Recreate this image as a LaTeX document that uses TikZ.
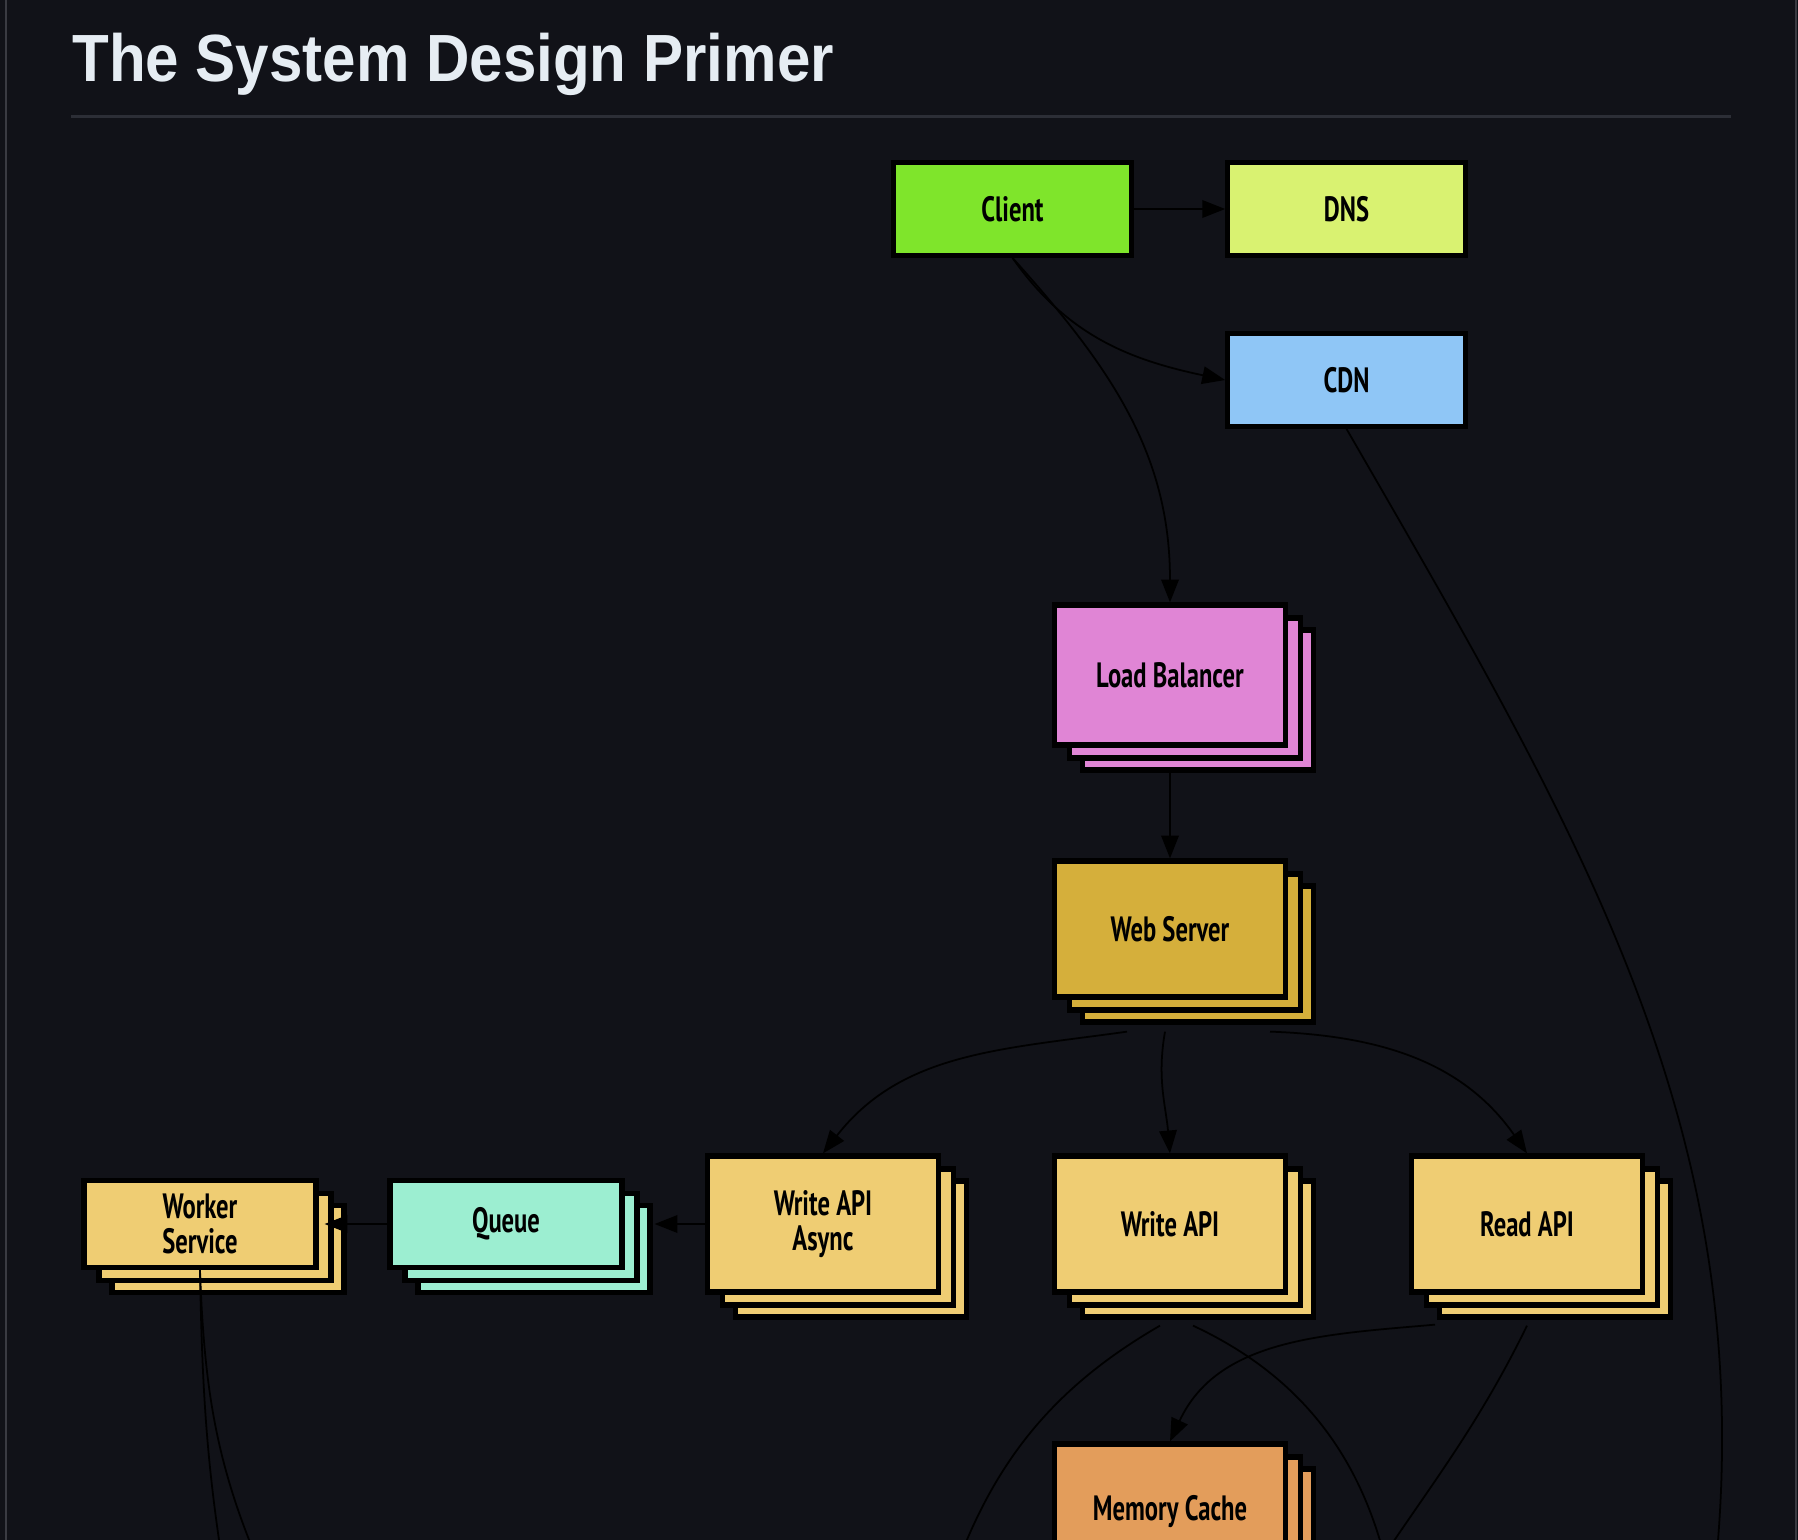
\documentclass[tikz,border=0pt]{standalone}
\usepackage{fontspec}
\setmainfont{Liberation Sans}
\newfontfamily\boxfont[FakeStretch=0.7]{PT Sans}
\newfontfamily\titlefont[FakeStretch=0.9]{Liberation Sans}
\usepackage{tikz}
\usetikzlibrary{arrows,arrows.meta,calc,positioning,shadows,shapes}
\definecolor{bgcol}{HTML}{111218}
\definecolor{titlecol}{HTML}{E6EDF3}
\definecolor{rulecol}{HTML}{2C2E36}
\definecolor{edgecol}{HTML}{3A3B42}
\definecolor{clientcol}{HTML}{7FE52B}
\definecolor{dnscol}{HTML}{D9F271}
\definecolor{cdncol}{HTML}{8FC6F6}
\definecolor{lbcol}{HTML}{E085D5}
\definecolor{wscol}{HTML}{D5AF3B}
\definecolor{apicol}{HTML}{EFCD73}
\definecolor{queuecol}{HTML}{9CEED1}
\definecolor{cachecol}{HTML}{E39D5B}
\tikzset{%
	box/.style      = {draw=black, line width=3pt, fill=#1, rectangle, minimum width=4.75cm, minimum height=1.85cm, font=\boxfont\bfseries\fontsize{20}{19.5}\selectfont, align=center}, % single box
	stack/.style    = {box=#1, minimum width=4.62cm, minimum height=2.72cm,
		copy shadow={shadow xshift=0.56cm, shadow yshift=-0.5cm, fill=#1, draw=black, line width=3pt},
		copy shadow={shadow xshift=0.3cm, shadow yshift=-0.26cm, fill=#1, draw=black, line width=3pt}}, % box with two copies
	flat/.style     = {stack=#1, minimum width=4.64cm, minimum height=1.74cm}, % low stack
	wire/.style     = {black, line width=1pt}, % connector
}

\begin{document}
\begin{tikzpicture}[node distance=6cm,auto,>={Triangle[length=13pt,width=10pt]}]
	\useasboundingbox (0,0) rectangle (35.96,-30.8);
	\fill[bgcol] (0,0) rectangle (35.96,-30.8);
	\clip (0,0) rectangle (35.96,-30.8);
	\draw[edgecol, line width=1.2pt] (0.12,0) -- (0.12,-30.8);
	\draw[edgecol, line width=1.2pt] (35.92,0) -- (35.92,-30.8);
	\node [anchor=base west, inner sep=0pt, text=titlecol, font=\titlefont\bfseries\fontsize{38}{44}\selectfont] (title) at (1.44,-1.63) {The System Design Primer};
	\draw[rulecol, line width=1.2pt] (1.42,-2.33) -- (34.62,-2.33);

	\node [box=clientcol] (client) at (20.25,-4.18) {Client};
	\node [box=dnscol] (dns) [right of=client,node distance=6.68cm] {DNS};
	\node [box=cdncol] (cdn) [below of=dns,node distance=3.42cm] {CDN};
	\node [stack=lbcol,minimum height=2.8cm] (lb) at (23.4,-13.5) {Load Balancer};
	\node [stack=wscol] (ws) [below of=lb,node distance=5.08cm] {Web Server};
	\node [stack=apicol] (wapi) [below of=ws,node distance=5.9cm] {Write API};
	\node [stack=apicol] (wapia) [left of=wapi,node distance=6.94cm] {Write API\\Async};
	\node [stack=apicol] (rapi) [right of=wapi,node distance=7.14cm] {Read API};
	\node [flat=queuecol] (queue) [left of=wapia,node distance=6.34cm] {Queue};
	\node [flat=apicol] (worker) [left of=queue,node distance=6.12cm] {Worker\\Service};
	\node [stack=cachecol] (mc) [below of=wapi,node distance=5.76cm] {Memory Cache};

	% ends below the frame
	\coordinate (wkout1) at (4.64,-32.4);
	\coordinate (wkout2) at (5.5,-32.0);
	\coordinate (wrout1) at (18.6,-33);
	\coordinate (wrout2) at (28,-33);
	\coordinate (rdout) at (26.3,-33.4);
	\coordinate (cdnout) at (34,-33.6);

	\draw[wire,->] (client) -- (dns);
	\draw[wire,->] (client.south) to[out=-55,in=168] (cdn.west);
	\draw[wire,->] (client.south) to[out=-48,in=90] (lb.north);
	\draw[wire,->] ([yshift=-0.5cm]lb.south) -- (ws.north);
	\draw[wire,->] ([xshift=-0.86cm,yshift=-0.64cm]ws.south) to[out=188,in=52] (wapia.north);
	\draw[wire,->] ([xshift=-0.1cm,yshift=-0.64cm]ws.south) to[out=-100,in=95] (wapi.north);
	\draw[wire,->] ([xshift=2cm,yshift=-0.64cm]ws.south) to[out=-2,in=125] (rapi.north);
	\draw[wire,->] (wapia.west) -- ([xshift=0.6cm]queue.east);
	\draw[wire,->] (queue.west) -- ([xshift=0.12cm]worker.east);
	\draw[wire,->] ([xshift=-1.84cm,yshift=-0.6cm]rapi.south) to[out=185,in=65] (mc.north);
	\draw[wire] (worker.south) to[out=-89,in=100] (wkout1);
	\draw[wire] (worker.south) to[out=-88,in=115] (wkout2);
	\draw[wire] ([xshift=-0.2cm,yshift=-0.62cm]wapi.south) to[out=-150,in=75] (wrout1);
	\draw[wire] ([xshift=0.46cm,yshift=-0.62cm]wapi.south) to[out=-25,in=95] (wrout2);
	\draw[wire] ([yshift=-0.62cm]rapi.south) to[out=-116,in=62] (rdout);
	\draw[wire] (cdn.south) to[out=-60,in=80] (cdnout);
\end{tikzpicture}
\end{document}
